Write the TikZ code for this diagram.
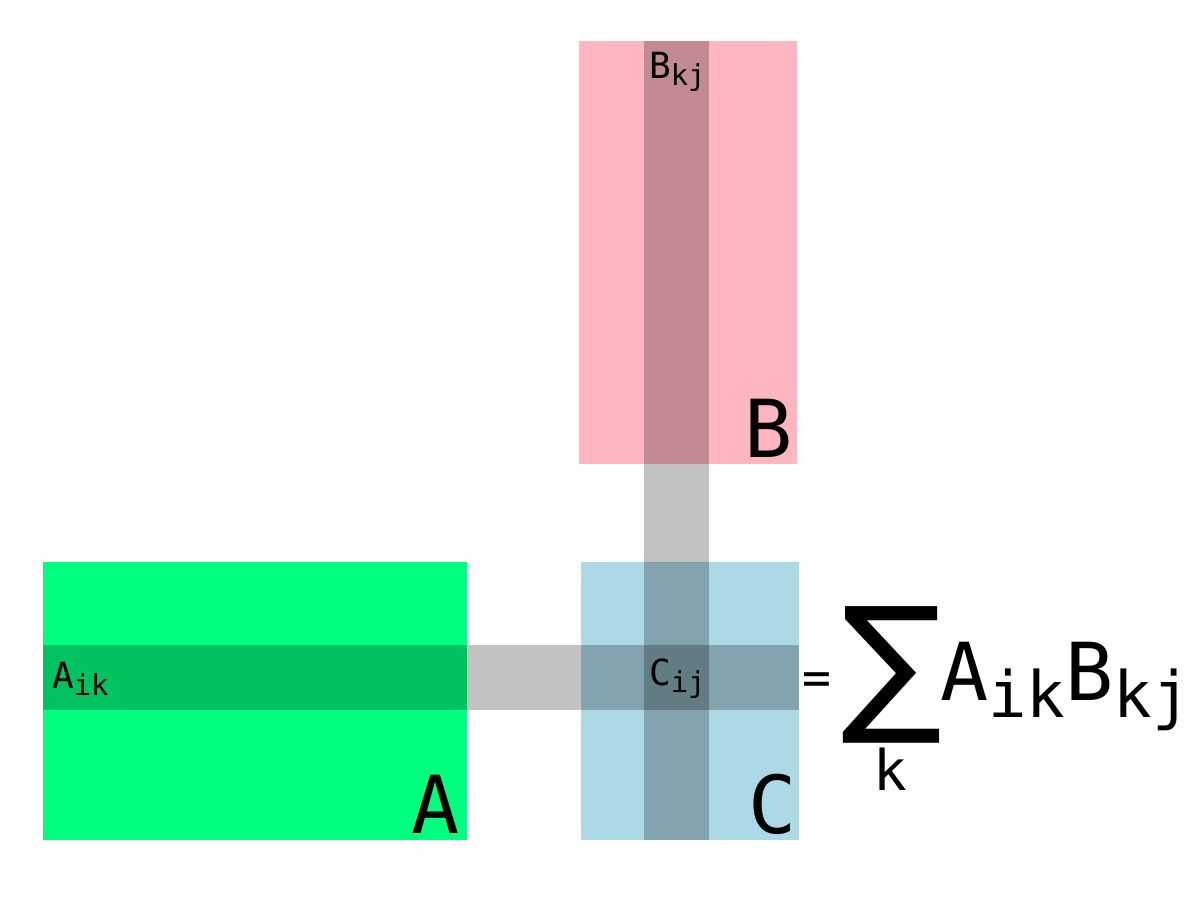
\documentclass[tikz,border=0pt]{standalone}
\usepackage{fontspec}
\usepackage{graphicx}
\setmainfont{DejaVu Sans Mono}
\newfontfamily\sumfont{DejaVu Sans}
\newcommand{\lo}[1]{\raisebox{-0.22em}{\scalebox{0.8}{#1}}}
\definecolor{matA}{HTML}{00FF7F}
\definecolor{matB}{HTML}{FFB6C1}
\definecolor{matC}{HTML}{ADD8E6}
\begin{document}
\begin{tikzpicture}[x=1pt,y=-1pt,
  strip/.style={fill=black,fill opacity=0.24},
  big/.style={font=\fontsize{80}{80}\selectfont,inner sep=0pt},
  small/.style={font=\fontsize{36}{36}\selectfont,inner sep=0pt}]
\useasboundingbox (0,0) rectangle (1200,900);
\fill[matA] (43,562) rectangle (467,840);
\fill[matB] (579,41) rectangle (797,464);
\fill[matC] (581,562) rectangle (799,840);
\fill[strip] (43,645) rectangle (799,710);
\fill[strip] (644,41) rectangle (709,840);
\node[big,anchor=base east] (la) at (460,833) {A};
\node[big,anchor=base east] (lb) at (793,457) {B};
\node[big,anchor=base east] (lc) at (797,833) {C};
\node[small,anchor=base west] (bkj) at (649,78) {B\lo{kj}};
\node[small,anchor=base west] (aik) at (52,688) {A\lo{ik}};
\node[small,anchor=base west] (cij) at (649,685) {C\lo{ij}};
\node[small,font=\fontsize{48}{48}\selectfont,anchor=base west] (eq) at (802,694) {=};
\node[inner sep=0pt,font=\sumfont\fontsize{150}{150}\selectfont,anchor=center] (sum) at (892,675) {∑};
\node[inner sep=0pt,font=\fontsize{56}{56}\selectfont,anchor=base] (k) at (890,790) {k};
\node[big,anchor=base west] (ab) at (940,700) {A\lo{ik}B\lo{kj}};
\end{tikzpicture}
\end{document}
